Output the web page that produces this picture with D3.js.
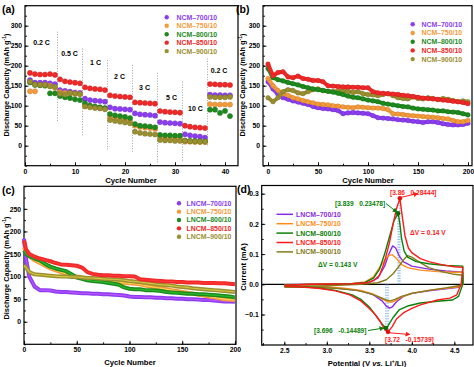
<!DOCTYPE html>
<html><head><meta charset="utf-8">
<script src="https://cdn.jsdelivr.net/npm/d3@7/dist/d3.min.js"></script>
<style>
body{margin:0;background:#fff}
svg{display:block}
text{font-family:"Liberation Sans",Arial,sans-serif;font-weight:bold}
</style>
</head><body>
<svg id="chart" width="474" height="367"></svg>
<script>
// ---------------- DATA ----------------
const namesA = ["NCM\u2013700/10","NCM\u2013750/10","NCM\u2013800/10","NCM\u2013850/10","NCM\u2013900/10"];
const namesC = ["LNCM\u2013700/10","LNCM\u2013750/10","LNCM\u2013800/10","LNCM\u2013850/10","LNCM\u2013900/10"];
const dotColors = ["#8B3DF0","#F59A3A","#1E8A1E","#F02828","#9A9030"];
const lineColors = ["#8A2BE2","#FF8C1A","#0A800A","#FF1A1A","#857A1C"];

// (a) rate capability
const rateCycles = [1,2,3,4,5,6,7,8,9,10,11,12,13,14,15,16,17,18,19,20,21,22,23,24,25,26,27,28,29,30,31,32,33,34,35,36,37,38,39,40,41];
const rate700 = [164,157.5,157.5,157.5,156,154, 139,137,135,133,132, 117.5,114,112.5,111.7,110, 96,92.5,92,91,90, 81,78.5,77.5,76.7,75, 59,57.5,56.7,56,55, 28.5,26,24,22.5,20, 127.5,126.7,126.7,126,126];
const rate750 = [136,136,152,152,150,145, 134,132,131,130,129, 102,99,97,95,93, 70,68,66,64,62, 50,47,45,44,42, 19,18,18,17,17, 10,10,9,9,9, 104,103,103,103,103];
const rate800 = [158,152,151,150,131,131, 124,121,119,116,114, 106,100,98,96,94, 79,76,74,72,69, 54,50,49,48,46, 27,26,26,25,25, 13,12,12,11,11, 90,90,82,87,74];
const rate850 = [182,179,178,178,179,177, 166,161,159,157.5,156, 146,143.5,142,141,139, 126,124,123,122,121, 108.5,107.5,106.7,106,105, 86.7,85,84,83.5,82.5, 50,47.5,46,45,44, 154,153.5,152.5,152.5,151.7];
const rate900 = [160,153,152,152,148,147, 130,128,132,130,129, 98,96,94,93,91, 64,62,60,58,56, 35,32,30,29,28, 14,13,13,12,12, 12,11,11,10,10, 122,121,121,121,122];
const rateLabels = ["0.2 C","0.5 C","1 C","2 C","3 C","5 C","10 C","0.2 C"];
const rateLabelX = [3.3, 8.9, 14.1, 18.9, 23.9, 29.3, 34.1, 38.8];
const rateLabelY = [253, 225, 202, 166, 140, 115, 87, 181];
const rateDividers = [6.5, 11.5, 16.5, 21.5, 26.5, 31.5, 36.5];
const dividerTop = [285, 243, 214, 202, 182, 160, 218];
const dividerBottom = [60, 22, -12, -18, -45, -40, 0];

// (b) cycling NCM
const cyclesB = [0,5,10,15,20,25,30,35,40,45,50,55,60,65,70,75,80,85,90,95,100,105,110,115,120,125,130,135,140,145,150,155,160,165,170,175,180,185,190,195,200];
const cyc700 = [160,142,128,120,116,112,109,106,103,98,95,93,92,90,88,80,82,83,82,81,80,75,70,69,68,67,65,64,63,61,60,58,60,60,58,55,53,52,52,53,56];
const cyc750 = [168,150,138,130,126,120,117,113,110,107,104,103,102,100,99,97,96,95,97,96,95,94,94,93,90,80,79,78,76,75,74,73,72,71,70,68,67,63,60,60,63];
const cyc800 = [193,170,165,162,158,155,152,148,145,142,140,138,136,134,131,128,124,121,120,117,114,112,110,106,104,102,100,98,97,94,92,91,90,89,87,87,85,84,83,80,77];
const cyc850 = [204,175,183,185,172,170,174,168,166,163,163,160,150,149,148,147,147,146,146,145,145,135,132,131,130,129,128,126,125,123,121,119,118,117,116,114,113,111,110,108,105];
const cyc900 = [120,110,120,135,140,138,132,130,135,140,142,138,136,135,137,138,136,133,135,130,128,127,125,128,130,125,120,118,117,122,118,117,120,118,115,118,116,113,110,112,110];

// (c) cycling LNCM
const cyclesC = [0,2,5,10,15,20,25,30,35,40,45,50,55,60,65,70,75,80,85,90,95,100,105,110,115,120,125,130,135,140,145,150,155,160,165,170,175,180,185,190,195,200];
const lcyc700 = [184,138,100,78,70,70,69,67,66,66,65,64,63,63,62,62,61,61,60,59,58,56,55,55,54,54,53,53,52,52,51,51,50,50,49,48,48,47,46,45,45,44];
const lcyc750 = [165,152,145,136,130,124,118,114,110,106,102,100,98,97,96,95,94,92,90,88,86,85,84,83,80,78,76,74,72,70,68,66,64,62,60,58,56,54,52,50,49,48];
const lcyc800 = [158,150,145,140,136,128,122,118,115,112,105,98,95,92,90,89,88,86,84,82,76,73,72,72,70,70,69,68,66,65,64,63,62,62,61,61,60,59,58,57,56,54];
const lcyc850 = [180,160,150,144,140,137,134,130,127,126,125,124,120,110,106,104,103,103,102,102,101,101,100,94,93,92,91,90,89,89,88,88,87,87,87,86,86,86,85,85,84,83];
const lcyc900 = [125,120,110,105,104,103,102,101,100,100,99,99,98,97,97,96,95,94,94,93,92,90,89,88,86,85,83,82,81,80,78,77,76,74,73,72,71,70,69,68,67,66];

// (d) CV curves (potential V, current mA)
const cv700V = [2.5,3.0,3.3,3.5,3.6,3.68,3.73,3.775,3.81,3.85,3.9,4.0,4.2,4.4,4.6,4.6,4.55,4.4,4.2,4.0,3.9,3.82,3.77,3.74,3.7,3.65,3.55,3.4,3.2,3.0,2.75,2.5];
const cv700I = [-0.001,0.0,0.002,0.006,0.02,0.06,0.1,0.127,0.12,0.095,0.075,0.06,0.05,0.044,0.04,0.0,-0.01,-0.015,-0.022,-0.03,-0.04,-0.058,-0.075,-0.079,-0.072,-0.055,-0.035,-0.022,-0.015,-0.01,-0.007,-0.005];
const cv750V = [2.5,3.0,3.3,3.45,3.55,3.62,3.68,3.73,3.77,3.82,3.88,3.95,4.1,4.3,4.5,4.6,4.6,4.55,4.4,4.2,4.0,3.88,3.8,3.76,3.72,3.65,3.55,3.4,3.2,3.0,2.75,2.5];
const cv750I = [-0.002,0.0,0.003,0.008,0.025,0.055,0.08,0.095,0.098,0.085,0.065,0.055,0.047,0.042,0.04,0.04,0.0,-0.008,-0.013,-0.02,-0.03,-0.042,-0.055,-0.06,-0.058,-0.048,-0.033,-0.02,-0.013,-0.009,-0.006,-0.005];
const cv800V = [2.5,3.0,3.3,3.45,3.55,3.62,3.68,3.74,3.79,3.839,3.86,3.88,3.91,3.95,4.05,4.2,4.4,4.6,4.6,4.55,4.48,4.3,4.1,3.95,3.85,3.78,3.72,3.696,3.66,3.6,3.5,3.4,3.3,3.1,2.9,2.7,2.5];
const cv800I = [-0.002,0.0,0.002,0.006,0.02,0.05,0.1,0.16,0.21,0.23478,0.2,0.15,0.11,0.09,0.075,0.068,0.062,0.06,0.0,-0.04,-0.052,-0.056,-0.062,-0.072,-0.085,-0.11,-0.138,-0.14489,-0.135,-0.112,-0.075,-0.05,-0.035,-0.02,-0.012,-0.008,-0.005];
const cv850V = [2.5,2.8,3.1,3.3,3.45,3.55,3.62,3.68,3.74,3.78,3.82,3.86,3.89,3.92,3.96,4.0,4.1,4.2,4.35,4.5,4.6,4.58,4.53,4.45,4.3,4.1,4.0,3.9,3.82,3.77,3.72,3.68,3.63,3.57,3.5,3.4,3.27,3.1,2.9,2.7,2.5];
const cv850I = [-0.003,0.0,0.001,0.002,0.004,0.012,0.03,0.075,0.141,0.2,0.25,0.28444,0.22,0.16,0.12,0.105,0.085,0.075,0.065,0.058,0.056,0.0,-0.035,-0.046,-0.052,-0.068,-0.08,-0.095,-0.115,-0.14,-0.15739,-0.15,-0.124,-0.1,-0.08,-0.055,-0.035,-0.022,-0.013,-0.009,-0.006];
const cv900V = [2.5,3.0,3.4,3.6,3.7,3.78,3.85,3.9,3.95,4.0,4.08,4.2,4.35,4.5,4.6,4.6,4.55,4.4,4.2,4.0,3.88,3.8,3.75,3.7,3.6,3.5,3.35,3.1,2.8,2.5];
const cv900I = [-0.01,-0.005,0.0,0.005,0.015,0.035,0.06,0.08,0.095,0.09,0.075,0.055,0.042,0.033,0.03,0.0,-0.005,-0.012,-0.02,-0.03,-0.04,-0.05,-0.055,-0.052,-0.04,-0.03,-0.02,-0.013,-0.01,-0.01];
const peakOx = [[3.839,0.23478],[3.86,0.28444]];
const peakRed = [[3.696,-0.14489],[3.72,-0.15739]];

// ---------------- DRAW ----------------
const svg = d3.select("#chart");
const defs = svg.append("defs");
function arrowMarker(id, color){
  defs.append("marker").attr("id",id).attr("viewBox","0 0 10 10").attr("refX",9).attr("refY",5)
    .attr("markerWidth",5).attr("markerHeight",5).attr("orient","auto")
    .append("path").attr("d","M0,0L10,5L0,10z").attr("fill",color);
}
arrowMarker("arG","#0A800A"); arrowMarker("arR","#FF1A1A");

function frame(x, y, o){
  const g = svg.append("g");
  const [xa,xb] = x.range(), [yb,ya] = y.range();
  const styl = s => s.attr("font-family",'"Liberation Sans",Arial,sans-serif').attr("font-size",6.8).attr("font-weight","bold");
  g.append("g").attr("transform",`translate(0,${yb})`)
    .call(d3.axisBottom(x).tickValues(o.xMinor).tickSize(-2).tickFormat(""))
    .call(s=>s.select(".domain").remove());
  g.append("g").attr("transform",`translate(${xa},0)`)
    .call(d3.axisLeft(y).tickValues(o.yMinor).tickSize(-2).tickFormat(""))
    .call(s=>s.select(".domain").remove());
  g.append("g").attr("transform",`translate(0,${yb})`)
    .call(d3.axisBottom(x).tickValues(o.xTicks).tickSizeInner(-3.5).tickSizeOuter(0).tickPadding(3).tickFormat(o.xFmt))
    .call(styl).call(s=>s.select(".domain").remove());
  g.append("g").attr("transform",`translate(${xa},0)`)
    .call(d3.axisLeft(y).tickValues(o.yTicks).tickSizeInner(-3.5).tickSizeOuter(0).tickPadding(3).tickFormat(o.yFmt))
    .call(styl).call(s=>s.select(".domain").remove());
  g.selectAll(".tick line").attr("stroke","#000").attr("stroke-width",0.9);
  g.append("rect").attr("x",xa).attr("y",ya).attr("width",xb-xa).attr("height",yb-ya)
    .attr("fill","none").attr("stroke","#000").attr("stroke-width",1.2);
  return g;
}
function label(txt, x, y, size, opts={}){
  const t = svg.append("text").attr("x",x).attr("y",y).attr("font-size",size).attr("fill",opts.fill||"#000");
  if(opts.anchor) t.attr("text-anchor",opts.anchor);
  if(opts.rotate) t.attr("transform",`rotate(-90,${x},${y})`);
  if(opts.pre) t.style("white-space","pre");
  t.text(txt);
  return t;
}
function yTitleCap(x, y){
  const t = svg.append("text").attr("x",x).attr("y",y).attr("font-size",7.4).attr("text-anchor","middle")
    .attr("transform",`rotate(-90,${x},${y})`);
  t.append("tspan").text("Discharge Capacity (mAh g");
  t.append("tspan").attr("font-size",5).attr("dy",-3).text("-1");
  t.append("tspan").attr("dy",3).text(")");
}
const r25 = d3.range(-50,351,25);

// ---- (a)
const xA = d3.scaleLinear().domain([0,42.6]).range([25,238]);
const yA = d3.scaleLinear().domain([-50,350]).range([165.7,5.7]);
frame(xA, yA, {xTicks:[0,10,20,30,40], xMinor:d3.range(0,43,5), yTicks:[0,50,100,150,200,250,300], yMinor:r25, xFmt:d3.format("d"), yFmt:d3.format("d")});
const gA = svg.append("g");
rateDividers.forEach((d,i)=>{
  gA.append("line").attr("x1",xA(d)).attr("x2",xA(d)).attr("y1",yA(dividerTop[i])).attr("y2",yA(dividerBottom[i]))
    .attr("stroke","#8a8a8a").attr("stroke-width",0.8).attr("stroke-dasharray","1,1.6");
});
rateLabels.forEach((l,i)=> label(l, xA(rateLabelX[i]), yA(rateLabelY[i]), 7, {anchor:"middle"}));
const rateSeries = [rate700, rate750, rate800, rate850, rate900];
rateSeries.forEach((s,k)=>{
  gA.selectAll(null).data(s).enter().append("circle")
    .attr("cx",(d,i)=>xA(rateCycles[i])).attr("cy",d=>yA(d)).attr("r",2.6)
    .attr("fill",dotColors[k]).attr("stroke",d3.color(dotColors[k]).darker(0.7)).attr("stroke-width",0.4);
});
function dotLegend(names, xs, xt, y0, dy, size){
  names.forEach((n,i)=>{
    svg.append("circle").attr("cx",xs).attr("cy",y0+i*dy).attr("r",2.2).attr("fill",dotColors[i]);
    label(n, xt, y0+i*dy+2.4, size, {fill:dotColors[i]});
  });
}
dotLegend(namesA, 166.7, 176.5, 17.3, 8.45, 6.9);
label("Cycle Number", 131, 182.5, 7.7, {anchor:"middle"});
yTitleCap(9, 85);
label("(a)", 2, 12.5, 10.5);

// ---- (b)
const xB = d3.scaleLinear().domain([-5,204]).range([263,472]);
const yB = d3.scaleLinear().domain([-50,350]).range([165.7,5.7]);
frame(xB, yB, {xTicks:[0,50,100,150,200], xMinor:d3.range(0,201,25), yTicks:[0,50,100,150,200,250,300], yMinor:r25, xFmt:d3.format("d"), yFmt:d3.format("d")});
const cycSeries = [cyc700, cyc750, cyc800, cyc850, cyc900];
const gB = svg.append("g");
[0,1,4,2,3].forEach(k=>{
  const s = cycSeries[k];
  const ln = d3.line().x((d,i)=>xB(cyclesB[i])).y(d=>yB(d));
  gB.append("path").attr("d",ln(s)).attr("fill","none").attr("stroke",dotColors[k]).attr("stroke-width",4).attr("stroke-linejoin","round");
  gB.selectAll(null).data(s).enter().append("circle")
    .attr("cx",(d,i)=>xB(cyclesB[i])).attr("cy",d=>yB(d)).attr("r",2.3)
    .attr("fill",dotColors[k]).attr("stroke",d3.color(dotColors[k]).darker(0.7)).attr("stroke-width",0.4);
});
dotLegend(namesA, 412.7, 421.5, 24.3, 8.7, 6.9);
label("Cycle Number", 368, 182.5, 7.7, {anchor:"middle"});
yTitleCap(245, 85);
label("(b)", 236, 12.5, 10.5);

// ---- (c)
const xC = d3.scaleLinear().domain([0,201]).range([24,236]);
const yC = d3.scaleLinear().domain([-50,300]).range([344.3,186.3]);
frame(xC, yC, {xTicks:[0,50,100,150,200], xMinor:d3.range(0,201,25), yTicks:[0,50,100,150,200,250], yMinor:d3.range(-50,301,25), xFmt:d3.format("d"), yFmt:d3.format("d")});
const lcycSeries = [lcyc700, lcyc750, lcyc800, lcyc850, lcyc900];
const gC = svg.append("g");
[0,1,2,4,3].forEach(k=>{
  const ln = d3.line().x((d,i)=>xC(cyclesC[i])).y(d=>yC(d));
  gC.append("path").attr("d",ln(lcycSeries[k])).attr("fill","none").attr("stroke",dotColors[k]).attr("stroke-width",4).attr("stroke-linejoin","round");
  gC.append("path").attr("d",ln(lcycSeries[k])).attr("fill","none").attr("stroke",d3.color(dotColors[k]).brighter(0.9)).attr("stroke-width",1.1).attr("stroke-linejoin","round");
});
dotLegend(namesC, 179, 186.5, 203.3, 8.35, 6.9);
label("Cycle Number", 130, 365, 7.7, {anchor:"middle"});
yTitleCap(9, 268);
label("(c)", 2, 194, 10.5);

// ---- (d)
const xD = d3.scaleLinear().domain([2.234,4.72]).range([261.7,473]);
const yD = d3.scaleLinear().domain([-0.201,0.327]).range([345,185.5]);
frame(xD, yD, {xTicks:[2.5,3.0,3.5,4.0,4.5], xMinor:d3.range(2.25,4.71,0.25), yTicks:[-0.1,0,0.1,0.2,0.3], yMinor:d3.range(-0.2,0.33,0.05), xFmt:d3.format(".1f"), yFmt:d3.format(".1f")});
const gD = svg.append("g");
gD.append("line").attr("x1",xD.range()[0]).attr("x2",xD.range()[1]).attr("y1",yD(0)).attr("y2",yD(0)).attr("stroke","#000").attr("stroke-width",1.2);
[peakOx, peakRed].forEach(arr=>arr.forEach(p=>{
  gD.append("line").attr("x1",xD(p[0])).attr("x2",xD(p[0])).attr("y1",yD(0)).attr("y2",yD(p[1]))
    .attr("stroke","#4A8FE0").attr("stroke-width",0.9).attr("stroke-dasharray","1.3,1.3");
}));
const cvV = [cv700V, cv750V, cv800V, cv850V, cv900V];
const cvI = [cv700I, cv750I, cv800I, cv850I, cv900I];
[0,1,4,2,3].forEach(k=>{
  const pts = cvV[k].map((v,i)=>[v,cvI[k][i]]);
  gD.append("path").attr("d",d3.line().x(d=>xD(d[0])).y(d=>yD(d[1]))(pts))
    .attr("fill","none").attr("stroke",lineColors[k]).attr("stroke-width",1.4).attr("stroke-linejoin","round");
});
const mk = (p,c)=> gD.append("circle").attr("cx",xD(p[0])).attr("cy",yD(p[1])).attr("r",2.3).attr("fill",c);
mk(peakOx[0],"#0A6A0A"); mk(peakOx[1],"#E01010"); mk(peakRed[0],"#0A6A0A"); mk(peakRed[1],"#E01010");
function arrow(x1,y1,x2,y2,c,id){
  gD.append("line").attr("x1",x1).attr("y1",y1).attr("x2",x2).attr("y2",y2).attr("stroke",c).attr("stroke-width",1).attr("marker-end",`url(#${id})`);
}
arrow(386, 203.5, xD(peakOx[0][0])-1, yD(peakOx[0][1])-1, "#0A800A","arG");
arrow(xD(peakOx[1][0])+1, yD(peakOx[1][1])-1, 418, 193.5, "#FF1A1A","arR");
arrow(368, 330.5, xD(peakRed[0][0])-2, yD(peakRed[0][1]), "#0A800A","arG");
arrow(xD(peakRed[1][0])+2, yD(peakRed[1][1])+1, 410, 334.5, "#FF1A1A","arR");
label("[3.839   0.23478]", 335, 205.5, 6.6, {fill:"#0A800A", pre:true});
label("[3.86   0.28444]", 390, 194.5, 6.6, {fill:"#FF1A1A", pre:true});
label("\u0394V = 0.14 V", 410, 235, 6.6, {fill:"#FF1A1A"});
label("\u0394V = 0.143 V", 318, 267, 6.6, {fill:"#0A800A"});
label("[3.696   -0.14489]", 314, 332.5, 6.6, {fill:"#0A800A", pre:true});
label("[3.72   -0.15739]", 385, 341.5, 6.6, {fill:"#FF1A1A", pre:true});
namesC.forEach((n,i)=>{
  const y = 214.3 + i*9.4;
  svg.append("line").attr("x1",276.5).attr("x2",293).attr("y1",y).attr("y2",y).attr("stroke",lineColors[i]).attr("stroke-width",1.5);
  label(n, 296, y+2.4, 6.9, {fill:lineColors[i]});
});
const xt = svg.append("text").attr("x",367).attr("y",365.5).attr("font-size",7.7).attr("text-anchor","middle");
xt.append("tspan").text("Potential (V ");
xt.append("tspan").attr("font-style","italic").text("vs.");
xt.append("tspan").text(" Li");
xt.append("tspan").attr("font-size",5).attr("dy",-3).text("+");
xt.append("tspan").attr("dy",3).text("/Li)");
label("Current (mA)", 246, 267, 7.7, {anchor:"middle", rotate:true});
label("(d)", 237, 193, 10.5);
</script>
</body></html>
